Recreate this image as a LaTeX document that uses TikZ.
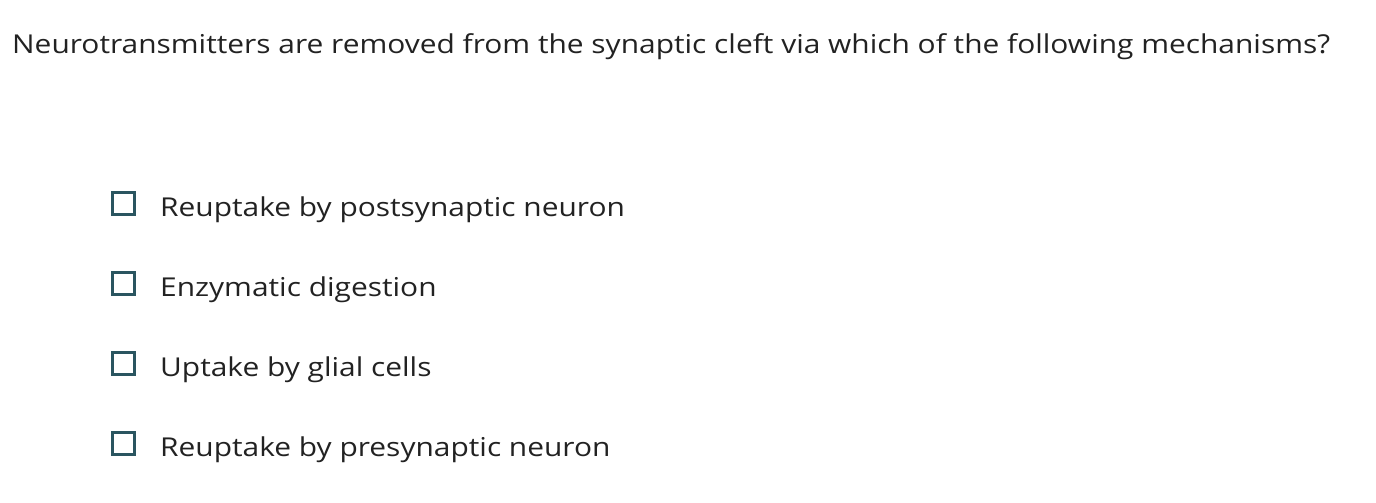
\documentclass[tikz,border=0pt]{standalone}
\usepackage{fontspec}
\setmainfont[FakeStretch=1.15]{Open Sans}
\definecolor{boxc}{HTML}{2A5560}
\definecolor{txt}{HTML}{222222}
\begin{document}
\begin{tikzpicture}[x=1pt,y=-1pt,
  cbox/.style={draw=boxc,line width=3pt,minimum size=22pt,inner sep=0pt},
  opt/.style={anchor=base west,inner sep=0pt,text=txt,font=\fontsize{26}{30}\selectfont}]
\useasboundingbox (0,0) rectangle (1376,503);
\node[opt] (q) at (12,54) {Neurotransmitters are removed from the synaptic cleft via which of the following mechanisms?};
\foreach \i/\t [count=\k] in {216/Reuptake by postsynaptic neuron,296/Enzymatic digestion,376/Uptake by glial cells,456/Reuptake by presynaptic neuron}{
  \node[cbox] (b\k) at (123.5,\i-13) {};
  \node[opt] (o\k) at (160,\i) {\t};
}
\end{tikzpicture}
\end{document}
